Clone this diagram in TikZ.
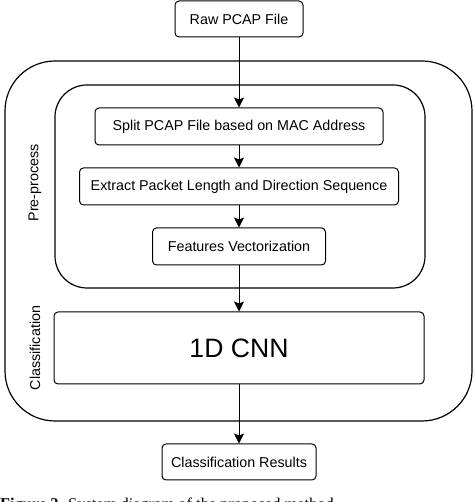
\documentclass[tikz,border=0pt]{standalone}
\usepackage{fontspec}
\setmainfont{Liberation Sans}
\newfontfamily\capfont{Liberation Serif}
\usetikzlibrary{arrows.meta}
\tikzset{
  stepbox/.style={draw=black, line width=1pt, rounded corners=4pt, inner sep=0pt,
    font=\fontsize{14.3}{17}\selectfont},
  group/.style={draw=black, line width=1.2pt, inner sep=0pt},
  flow/.style={draw=black, line width=1pt, -{Stealth[length=10pt,width=10pt,inset=2pt]}},
  sidelabel/.style={rotate=90, font=\fontsize{14.3}{17}\selectfont, inner sep=0pt}
}
\begin{document}
\begin{tikzpicture}[x=1pt,y=1pt]
\useasboundingbox (0,0) rectangle (474,502);
\clip (0,0) rectangle (474,502);
% containers
\node[group, rounded corners=50pt, minimum width=467pt, minimum height=360pt] (outer) at (238.5,261) {};
\node[group, rounded corners=32pt, minimum width=370pt, minimum height=203pt] (pre) at (240,315.5) {};
% steps
\node[stepbox, minimum width=128pt, minimum height=36pt] (raw) at (239,483) {Raw PCAP File};
\node[stepbox, minimum width=288pt, minimum height=37pt] (split) at (239,375.5) {Split PCAP File based on MAC Address};
\node[stepbox, minimum width=319pt, minimum height=37pt] (extract) at (239,315.5) {Extract Packet Length and Direction Sequence};
\node[stepbox, minimum width=173pt, minimum height=37pt] (feat) at (239,255.5) {Features Vectorization};
\node[stepbox, minimum width=370pt, minimum height=72pt, font=\fontsize{26.6}{30}\selectfont] (cnn) at (239,154) {1D CNN};
\node[stepbox, minimum width=154pt, minimum height=36pt] (res) at (239,40) {Classification Results};
% side labels
\node[sidelabel] (lpre) at (35,319) {Pre-process};
\node[sidelabel] (lcls) at (35,154) {Classification};
% arrows
\draw[flow] (raw.south) -- (split.north);
\draw[flow] (split.south) -- (extract.north);
\draw[flow] (extract.south) -- (feat.north);
\draw[flow] (feat.south) -- (cnn.north);
\draw[flow] (cnn.south) -- (res.north);
% truncated caption (cut off at the lower edge, as in the reference)
\node[anchor=base west, inner sep=0pt, font=\capfont\fontsize{16.4}{19}\selectfont] (cap) at (0,-8) {\textbf{Figure 2.} System diagram of the proposed method.};
\end{tikzpicture}
\end{document}
